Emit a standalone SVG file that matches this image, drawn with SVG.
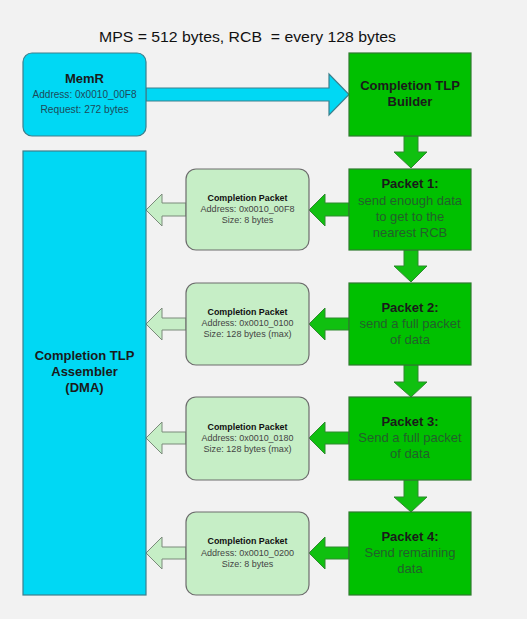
<svg xmlns="http://www.w3.org/2000/svg" width="527" height="619" viewBox="0 0 527 619">
<style>
text{font-family:"Liberation Sans",Arial,sans-serif;text-anchor:middle}
.cyan{fill:#00d8f4;stroke:#3d7f8c;stroke-width:1.2}
.grn{fill:#00c000;stroke:#2e7a2e;stroke-width:1.2}
.lg{fill:#c6eec6;stroke:#6d6d6d;stroke-width:1.2}
.ga{fill:#10c010;stroke:#2e8a2e;stroke-width:1}
.la{fill:#c6eec6;stroke:#7a8a7a;stroke-width:1}
.b13{font-size:13px;font-weight:bold;fill:#1a1a1a}
.g13{font-size:13px;fill:#22602a}
.s11{font-size:10.5px;fill:#1e4a5a}
.cb{font-size:8.5px;font-weight:bold;fill:#111}
.cs{font-size:9px;fill:#444}
</style>
<rect width="527" height="619" fill="#f2f2f2"/>
<text x="247.5" y="42" font-size="15" fill="#111" style="white-space:pre" textLength="297" lengthAdjust="spacingAndGlyphs">MPS = 512 bytes, RCB  = every 128 bytes</text>

<g id="connectors">
<path class="cyan" d="M146,88 H329 V74 L349,94.5 L329,115 V101 H146 Z"/>
<path class="ga" d="M404,136 V152 H394 L411,168 L427,152 H418 V136 Z"/>
<path class="ga" d="M404,250 V266 H394 L411,282 L427,266 H418 V250 Z"/>
<path class="ga" d="M404,365 V382 H394 L411,397 L427,382 H418 V365 Z"/>
<path class="ga" d="M404,480 V497 H394 L411,512 L427,497 H418 V480 Z"/>
<path class="ga" d="M349,203 H325 V194 L309,210 L325,226 V216 H349 Z"/>
<path class="ga" d="M349,318 H325 V308 L309,324 L325,340 V330 H349 Z"/>
<path class="ga" d="M349,432 H325 V422 L309,438 L325,454 V444 H349 Z"/>
<path class="ga" d="M349,547 H325 V537 L309,553 L325,569 V559 H349 Z"/>
<path class="la" d="M186,203 H162 V194 L146,210 L162,226 V216 H186 Z"/>
<path class="la" d="M186,318 H162 V308 L146,324 L162,340 V330 H186 Z"/>
<path class="la" d="M186,432 H162 V422 L146,438 L162,454 V444 H186 Z"/>
<path class="la" d="M186,547 H162 V537 L146,553 L162,569 V559 H186 Z"/>
</g>

<g id="memr">
<rect class="cyan" x="23" y="53" width="123" height="83" rx="9"/>
<text x="84.5" y="83" class="b13">MemR</text>
<text x="84.5" y="98" class="s11" textLength="104" lengthAdjust="spacingAndGlyphs">Address: 0x0010_00F8</text>
<text x="84.5" y="113" class="s11" textLength="88" lengthAdjust="spacingAndGlyphs">Request: 272 bytes</text>
</g>

<g id="builder">
<rect class="grn" x="349" y="53" width="122" height="83"/>
<text x="410" y="90" class="b13">Completion TLP</text>
<text x="410" y="106" class="b13">Builder</text>
</g>

<g id="assembler">
<rect class="cyan" x="23" y="151" width="123" height="444"/>
<text x="84.5" y="360" class="b13" fill="#1a3a44">Completion TLP</text>
<text x="84.5" y="376" class="b13">Assembler</text>
<text x="84.5" y="392" class="b13">(DMA)</text>
</g>

<g id="packet1">
<rect class="grn" x="349" y="169" width="122" height="81"/>
<text x="410" y="188" class="b13">Packet 1:</text>
<text x="410" y="205" class="g13">send enough data</text>
<text x="410" y="221" class="g13">to get to the</text>
<text x="410" y="237" class="g13">nearest RCB</text>
</g>
<g id="packet2">
<rect class="grn" x="349" y="283" width="122" height="82"/>
<text x="410" y="312" class="b13">Packet 2:</text>
<text x="410" y="328" class="g13">send a full packet</text>
<text x="410" y="344" class="g13">of data</text>
</g>
<g id="packet3">
<rect class="grn" x="349" y="397" width="122" height="83"/>
<text x="410" y="426" class="b13">Packet 3:</text>
<text x="410" y="442" class="g13">Send a full packet</text>
<text x="410" y="458" class="g13">of data</text>
</g>
<g id="packet4">
<rect class="grn" x="349" y="512" width="122" height="83"/>
<text x="410" y="541" class="b13">Packet 4:</text>
<text x="410" y="557" class="g13">Send remaining</text>
<text x="410" y="573" class="g13">data</text>
</g>

<g id="cpkt1">
<rect class="lg" x="186" y="169" width="123" height="81" rx="10"/>
<text x="247.5" y="201" class="cb" textLength="80" lengthAdjust="spacingAndGlyphs">Completion Packet</text>
<text x="247.5" y="212" class="cs" textLength="94" lengthAdjust="spacingAndGlyphs">Address: 0x0010_00F8</text>
<text x="247.5" y="223" class="cs">Size: 8 bytes</text>
</g>
<g id="cpkt2">
<rect class="lg" x="186" y="283" width="123" height="82" rx="10"/>
<text x="247.5" y="315" class="cb" textLength="80" lengthAdjust="spacingAndGlyphs">Completion Packet</text>
<text x="247.5" y="326" class="cs" textLength="92" lengthAdjust="spacingAndGlyphs">Address: 0x0010_0100</text>
<text x="247.5" y="337" class="cs" textLength="88" lengthAdjust="spacingAndGlyphs">Size: 128 bytes (max)</text>
</g>
<g id="cpkt3">
<rect class="lg" x="186" y="397" width="123" height="83" rx="10"/>
<text x="247.5" y="430" class="cb" textLength="80" lengthAdjust="spacingAndGlyphs">Completion Packet</text>
<text x="247.5" y="441" class="cs" textLength="92" lengthAdjust="spacingAndGlyphs">Address: 0x0010_0180</text>
<text x="247.5" y="452" class="cs" textLength="88" lengthAdjust="spacingAndGlyphs">Size: 128 bytes (max)</text>
</g>
<g id="cpkt4">
<rect class="lg" x="186" y="512" width="123" height="83" rx="10"/>
<text x="247.5" y="544" class="cb" textLength="80" lengthAdjust="spacingAndGlyphs">Completion Packet</text>
<text x="247.5" y="556" class="cs" textLength="93" lengthAdjust="spacingAndGlyphs">Address: 0x0010_0200</text>
<text x="247.5" y="567" class="cs">Size: 8 bytes</text>
</g>
</svg>
